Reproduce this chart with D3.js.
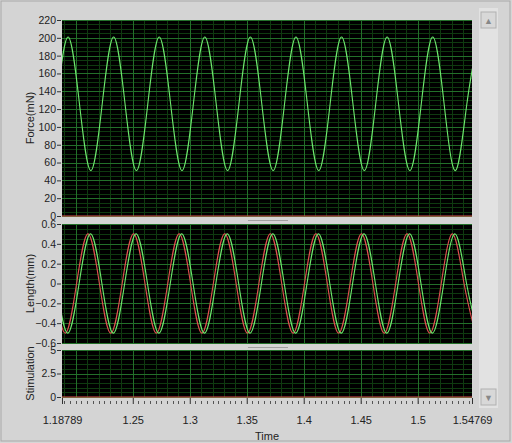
<!DOCTYPE html><html><head><meta charset="utf-8"><script src="https://cdn.jsdelivr.net/npm/d3@7"></script>
<style>body{margin:0;background:#d6d6d6}svg{display:block}text{font-family:"Liberation Sans",Arial,sans-serif;fill:#222}</style></head><body><svg width="512" height="443"></svg><script>
const forceTimes=[1.1832,1.1932,1.2032,1.2132,1.2232,1.2332,1.2432,1.2532,1.2632,1.2732,1.2832,1.2932,1.3032,1.3132,1.3232,1.3332,1.3432,1.3532,1.3632,1.3732,1.3832,1.3932,1.4032,1.4132,1.4232,1.4332,1.4432,1.4532,1.4632,1.4732,1.4832,1.4932,1.5032,1.5132,1.5232,1.5332,1.5432,1.5532];
const forceValues=[126,201,126,51,126,201,126,51,126,201,126,51,126,201,126,51,126,201,126,51,126,201,126,51,126,201,126,51,126,201,126,51,126,201,126,51,126,201];
const lenTimesGreen=[1.1829,1.1929,1.2029,1.2129,1.2229,1.2329,1.2429,1.2529,1.2629,1.2729,1.2829,1.2929,1.3029,1.3129,1.3229,1.3329,1.3429,1.3529,1.3629,1.3729,1.3829,1.3929,1.4029,1.4129,1.4229,1.4329,1.4429,1.4529,1.4629,1.4729,1.4829,1.4929,1.5029,1.5129,1.5229,1.5329,1.5429,1.5529];
const lenTimesRed=[1.1807,1.1907,1.2007,1.2107,1.2207,1.2307,1.2407,1.2507,1.2607,1.2707,1.2807,1.2907,1.3007,1.3107,1.3207,1.3307,1.3407,1.3507,1.3607,1.3707,1.3807,1.3907,1.4007,1.4107,1.4207,1.4307,1.4407,1.4507,1.4607,1.4707,1.4807,1.4907,1.5007,1.5107,1.5207,1.5307,1.5407,1.5507];
const lenValues=[0,-0.5,0,0.5,0,-0.5,0,0.5,0,-0.5,0,0.5,0,-0.5,0,0.5,0,-0.5,0,0.5,0,-0.5,0,0.5,0,-0.5,0,0.5,0,-0.5,0,0.5,0,-0.5,0,0.5,0,-0.5];
const stimTimes=[1.18789,1.54769];
const stimValues=[0,0];
const timeTicks=[1.18789,1.25,1.3,1.35,1.4,1.45,1.5,1.54769];
const forceTicks=[0,20,40,60,80,100,120,140,160,180,200,220];
const lenTicks=[-0.6,-0.4,-0.2,0,0.2,0.4,0.6];
const stimTicks=[0,2.5,5];

const svg=d3.select("svg");
svg.append("rect").attr("x",1).attr("y",1).attr("width",509).attr("height",440).attr("fill","#d4d4d4").attr("stroke","#a8a8a8");
const x=d3.scaleLinear().domain([1.18789,1.54769]).range([62,472]);
svg.append("rect").attr("x",479).attr("y",8).attr("width",19).attr("height",400).attr("fill","#e2e2e2");
[[12,"▲"],[389,"▼"]].forEach(([y,s])=>{svg.append("rect").attr("x",481).attr("y",y).attr("width",15).attr("height",16).attr("fill","#d8d8d8").attr("stroke","#b0b0b0");
svg.append("text").attr("x",488.5).attr("y",y+12).attr("text-anchor","middle").attr("font-size",9).style("fill","#888").text(s);});

const panels=[
 {top:20,bot:216,dom:[0,220],ticks:forceTicks,label:"Force(mN)",fmt:d=>d,sub:4,
  series:[{t:stimTimes,v:stimValues,c:"#e05050"},{t:forceTimes,v:forceValues,c:"#6ee86e"}]},
 {top:224,bot:343,dom:[-0.6,0.6],ticks:lenTicks,label:"Length(mm)",fmt:d=>d===0?"0":d3.format(".1f")(d),sub:4,
  series:[{t:lenTimesRed,v:lenValues,c:"#e05050"},{t:lenTimesGreen,v:lenValues,c:"#6ee86e"}]},
 {top:350,bot:397,dom:[0,5],ticks:stimTicks,label:"Stimulation",fmt:d=>d,sub:5,
  series:[{t:stimTimes,v:stimValues,c:"#e05050"}]}
];
const minorX=d3.range(1.19,1.5477,0.01);
panels.forEach((p,i)=>{
  const y=d3.scaleLinear().domain(p.dom).range([p.bot,p.top]);
  const g=svg.append("g");
  g.append("rect").attr("x",62).attr("y",p.top).attr("width",410).attr("height",p.bot-p.top+1).attr("fill","#000");
  const id="c"+i;
  svg.append("clipPath").attr("id",id).append("rect").attr("x",62).attr("y",p.top).attr("width",410).attr("height",p.bot-p.top+1);
  const gg=g.append("g").attr("clip-path",`url(#${id})`);
  const step=(p.ticks[1]-p.ticks[0])/p.sub;
  d3.range(p.dom[0],p.dom[1]+1e-9,step).forEach(v=>gg.append("line").attr("x1",62).attr("x2",472).attr("y1",Math.round(y(v))+.5).attr("y2",Math.round(y(v))+.5).attr("stroke","#0f3a10"));
  minorX.forEach(v=>gg.append("line").attr("y1",p.top).attr("y2",p.bot+1).attr("x1",Math.round(x(v))+.5).attr("x2",Math.round(x(v))+.5).attr("stroke","#0f3a10"));
  p.ticks.forEach(v=>gg.append("line").attr("x1",62).attr("x2",472).attr("y1",Math.round(y(v))+.5).attr("y2",Math.round(y(v))+.5).attr("stroke","#23702a"));
  d3.range(1.2,1.5477,0.05).forEach(v=>gg.append("line").attr("y1",p.top).attr("y2",p.bot+1).attr("x1",Math.round(x(v))+.5).attr("x2",Math.round(x(v))+.5).attr("stroke","#23702a"));
  const line=d3.line().x(d=>x(d[0])).y(d=>y(d[1])).curve(d3.curveNatural);
  p.series.forEach(s=>gg.append("path").datum(s.t.map((t,k)=>[t,s.v[k]])).attr("d",line).attr("fill","none").attr("stroke",s.c).attr("stroke-width",1.1));
  const ax=svg.append("g").attr("transform","translate(61,0)").call(d3.axisLeft(y).tickValues(p.ticks).tickFormat(p.fmt).tickSize(4).tickPadding(1));
  ax.select(".domain").remove();
  ax.selectAll("line").attr("stroke","#333");
  ax.selectAll("text").attr("font-size",10.5).style("fill","#222");
  svg.append("text").attr("transform",`translate(34,${(p.top+p.bot)/2}) rotate(-90)`).attr("text-anchor","middle").attr("font-size",11).text(p.label);
  if(i<2){svg.append("line").attr("x1",248).attr("x2",288).attr("y1",p.bot+4.5).attr("y2",p.bot+4.5).attr("stroke","#a0a0a0");}
});
const xa=svg.append("g").attr("transform","translate(0,404)").call(d3.axisBottom(x).tickValues(timeTicks).tickFormat(d=>d).tickSize(-6).tickPadding(12));
xa.select(".domain").remove();
xa.selectAll("line").attr("stroke","#333");
xa.selectAll("text").attr("font-size",11);
d3.range(1.19,1.5477,0.005).forEach(v=>svg.append("line").attr("x1",Math.round(x(v))+.5).attr("x2",Math.round(x(v))+.5).attr("y1",401).attr("y2",404).attr("stroke","#555"));
svg.append("text").attr("x",267).attr("y",440).attr("text-anchor","middle").attr("font-size",11).text("Time");
</script></body></html>
